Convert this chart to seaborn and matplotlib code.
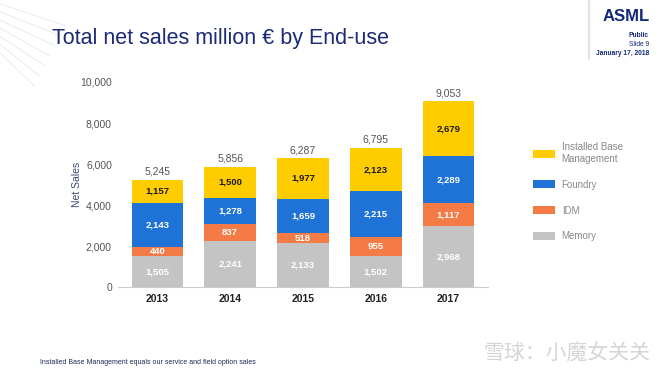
import matplotlib
matplotlib.use("Agg")
import matplotlib.pyplot as plt
import seaborn as sns
import numpy as np
import pandas as pd
from matplotlib.patches import Patch

years = ["2013", "2014", "2015", "2016", "2017"]
memory = [1505, 2241, 2133, 1502, 2968]
idm = [440, 837, 518, 955, 1117]
foundry = [2143, 1278, 1659, 2215, 2289]
ibm = [1157, 1500, 1977, 2123, 2679]
totals = [5245, 5856, 6287, 6795, 9053]
y_ticks = [0, 2000, 4000, 6000, 8000, 10000]

series = [
    ("Memory", memory, "#c4c4c4", "white"),
    ("IDM", idm, "#f47b45", "white"),
    ("Foundry", foundry, "#1f73d6", "white"),
    ("Installed Base\nManagement", ibm, "#ffcc00", "#1a1a1a"),
]

sns.set_theme(style="white")
plt.rcParams["font.family"] = ["Liberation Sans", "DejaVu Sans", "Noto Sans CJK SC"]

fig = plt.figure(figsize=(6.6, 3.71), dpi=100)
ax = fig.add_axes([0.179, 0.226, 0.56, 0.553])

df = pd.DataFrame({"year": years})
bottom = np.zeros(len(years))
handles = []
for name, vals, col, tcol in series:
    sns.barplot(x=df["year"], y=vals, bottom=bottom, color=col, width=0.71,
                ax=ax, saturation=1, linewidth=0)
    for i, v in enumerate(vals):
        ax.text(i, bottom[i] + v / 2, f"{v:,}", ha="center", va="center",
                fontsize=6.8, fontweight="bold", color=tcol)
    bottom = bottom + np.array(vals)
    handles.append(Patch(facecolor=col, edgecolor="none", label=name))

for i, t in enumerate(totals):
    ax.text(i, t + 150, f"{t:,}", ha="center", va="bottom", fontsize=7.5, color="#555555")

ax.set_ylim(0, 10000)
ax.set_xlim(-0.54, 4.54)
ax.set_yticks(y_ticks)
ax.set_yticklabels([f"{v:,}" for v in y_ticks], fontsize=7.5, color="#555555")
ax.tick_params(axis="x", labelsize=7.5, colors="#222222", length=0, pad=5)
ax.tick_params(axis="y", length=0, pad=4.5)
for lab in ax.get_xticklabels():
    lab.set_fontweight("bold")
ax.set_xlabel("")
ax.set_ylabel("Net Sales", fontsize=7.5, color="#3a4a7a", labelpad=-1)
for s in ["top", "right", "left"]:
    ax.spines[s].set_visible(False)
ax.spines["bottom"].set_color("#cccccc")
ax.spines["bottom"].set_linewidth(0.8)

# legend
leg = fig.legend(handles=handles[::-1], loc="upper left", bbox_to_anchor=(0.795, 0.64),
                 frameon=False, fontsize=7, labelcolor="#888888", handlelength=2.2,
                 handleheight=0.9, labelspacing=1.63, handletextpad=0.7)

# title and header texts
fig.text(0.079, 0.897, "Total net sales million \u20ac by End-use", fontsize=15.5,
         color="#1c2a78", va="center", ha="left")
fig.text(0.985, 0.955, "ASML", fontsize=12, fontweight="bold", color="#14277a",
         ha="right", va="center")
fig.text(0.983, 0.904, "Public", fontsize=4.8, fontweight="bold", color="#14277a", ha="right", va="center")
fig.text(0.983, 0.881, "Slide 9", fontsize=4.8, color="#14277a", ha="right", va="center")
fig.text(0.983, 0.855, "January 17, 2018", fontsize=4.8, fontweight="bold", color="#14277a", ha="right", va="center")
fig.add_artist(plt.Line2D([0.893, 0.893], [0.84, 1.0], color="#e2e2e2", lw=1.5))

# decorative lines at top left
for k in range(7):
    yk = 0.99 - k * 0.022
    fig.add_artist(plt.Line2D([0, 0.1 - k * 0.008], [yk, yk - 0.06 - k * 0.005],
                              color="#dde7f2", lw=0.8, alpha=0.7))

fig.text(0.061, 0.024, "Installed Base Management equals our service and field option sales",
         fontsize=5, color="#1c2a58", ha="left", va="center")
fig.text(0.985, 0.05, "\u96ea\u7403\uff1a\u5c0f\u9b54\u5973\u5173\u5173", fontsize=15,
         color="#d5d5d5", ha="right", va="center", family=["Noto Sans CJK SC"])

fig.savefig("out.png", dpi=100)
